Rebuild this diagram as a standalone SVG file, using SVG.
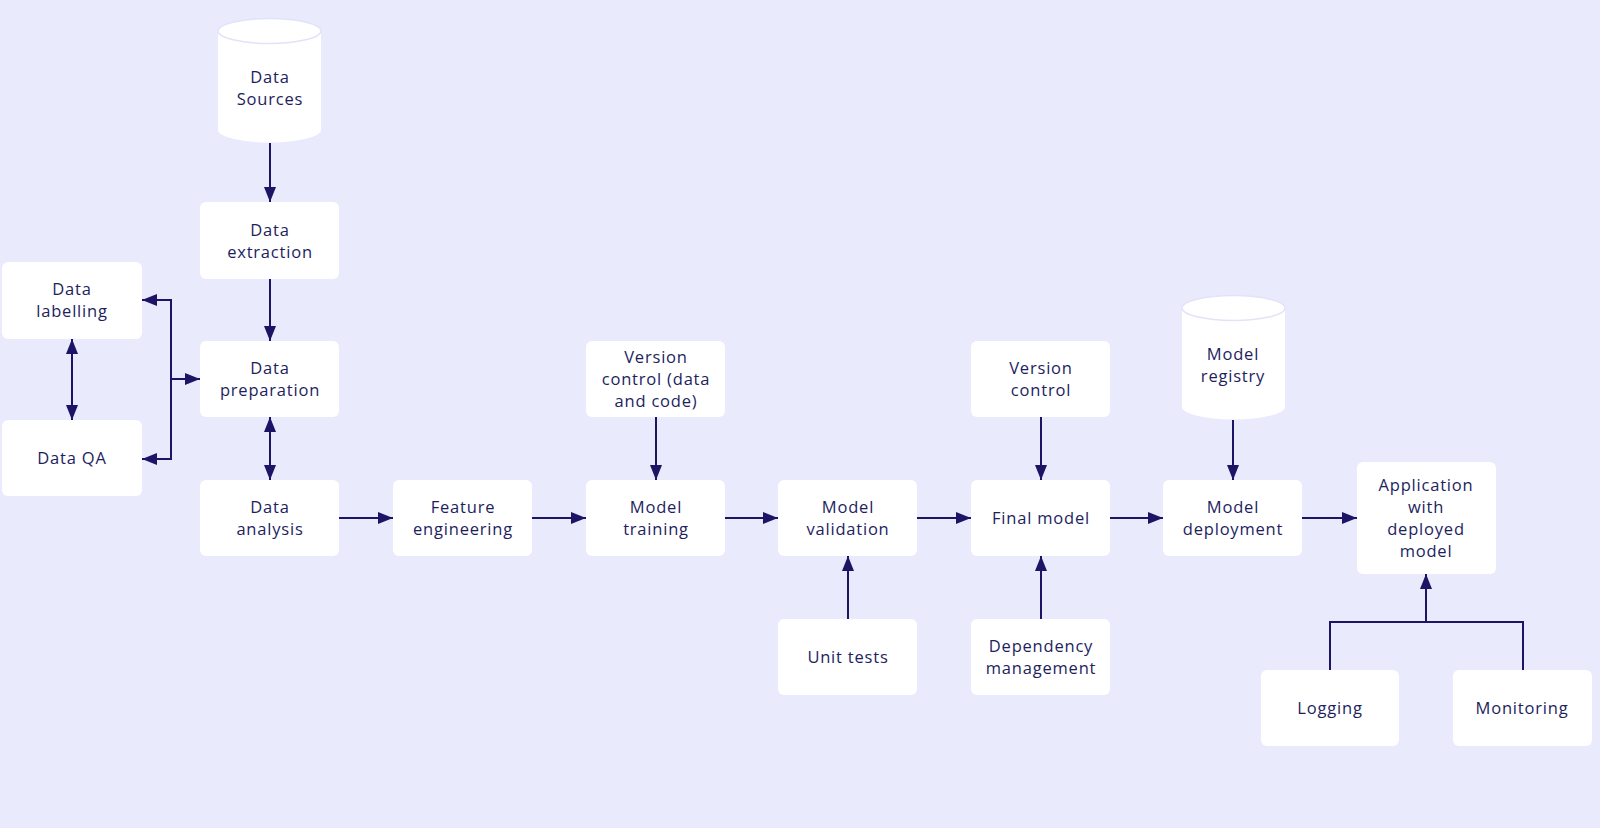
<svg xmlns="http://www.w3.org/2000/svg" width="1600" height="828" viewBox="0 0 1600 828">
<style>
.bg{fill:#E9EAFC}
.box{fill:#FFFFFF}
.cyl{fill:#FFFFFF}
.cyltop{fill:#FFFFFF;stroke:#E2E3F8;stroke-width:1.5}
text{font-family:"Open Sans","Liberation Sans",sans-serif;font-size:16.5px;fill:#221E5E;text-anchor:middle;letter-spacing:0.8px}
.c{fill:none;stroke:#1C1464;stroke-width:2}
</style>
<defs>
<marker id="ah" markerUnits="userSpaceOnUse" markerWidth="15" markerHeight="12" refX="15" refY="6" orient="auto-start-reverse">
<path d="M0,0 L15,6 L0,12 Z" fill="#1C1464"/>
</marker>
</defs>
<rect class="bg" x="0" y="0" width="1600" height="828"/>

<g id="connectors">
<path class="c" d="M270,143 V202" marker-end="url(#ah)"/>
<path class="c" d="M270,279 V341" marker-end="url(#ah)"/>
<path class="c" d="M270,417 V480" marker-start="url(#ah)" marker-end="url(#ah)"/>
<path class="c" d="M72,339 V420" marker-start="url(#ah)" marker-end="url(#ah)"/>
<path class="c" d="M142,300 H171 V459 H142" marker-start="url(#ah)" marker-end="url(#ah)"/>
<path class="c" d="M171,379 H200" marker-end="url(#ah)"/>
<path class="c" d="M339,518 H393" marker-end="url(#ah)"/>
<path class="c" d="M532,518 H586" marker-end="url(#ah)"/>
<path class="c" d="M725,518 H778" marker-end="url(#ah)"/>
<path class="c" d="M917,518 H971" marker-end="url(#ah)"/>
<path class="c" d="M1110,518 H1163" marker-end="url(#ah)"/>
<path class="c" d="M1302,518 H1357" marker-end="url(#ah)"/>
<path class="c" d="M656,417 V480" marker-end="url(#ah)"/>
<path class="c" d="M848,619 V556" marker-end="url(#ah)"/>
<path class="c" d="M1041,417 V480" marker-end="url(#ah)"/>
<path class="c" d="M1041,619 V556" marker-end="url(#ah)"/>
<path class="c" d="M1233,420 V480" marker-end="url(#ah)"/>
<path class="c" d="M1330,670 V622 H1523 V670"/>
<path class="c" d="M1426,622 V574" marker-end="url(#ah)"/>
</g>

<g id="data-sources">
<path class="cyl" d="M218,31 V130 A51.5,12.5 0 0 0 321,130 V31 Z"/>
<ellipse class="cyltop" cx="269.5" cy="31" rx="51.5" ry="12.5"/>
<text x="270" y="83">Data</text>
<text x="270" y="105">Sources</text>
</g>

<g id="data-extraction">
<rect class="box" x="200" y="202" width="139" height="77" rx="6"/>
<text x="270" y="236">Data</text>
<text x="270" y="258">extraction</text>
</g>

<g id="data-labelling">
<rect class="box" x="2" y="262" width="140" height="77" rx="6"/>
<text x="72" y="295">Data</text>
<text x="72" y="317">labelling</text>
</g>

<g id="data-qa">
<rect class="box" x="2" y="420" width="140" height="76" rx="6"/>
<text x="72" y="464">Data QA</text>
</g>

<g id="data-preparation">
<rect class="box" x="200" y="341" width="139" height="76" rx="6"/>
<text x="270" y="374">Data</text>
<text x="270" y="396">preparation</text>
</g>

<g id="data-analysis">
<rect class="box" x="200" y="480" width="139" height="76" rx="6"/>
<text x="270" y="513">Data</text>
<text x="270" y="535">analysis</text>
</g>

<g id="feature-engineering">
<rect class="box" x="393" y="480" width="139" height="76" rx="6"/>
<text x="463" y="513">Feature</text>
<text x="463" y="535">engineering</text>
</g>

<g id="version-control-data-code">
<rect class="box" x="586" y="341" width="139" height="76" rx="6"/>
<text x="656" y="363">Version</text>
<text x="656" y="385">control (data</text>
<text x="656" y="407">and code)</text>
</g>

<g id="model-training">
<rect class="box" x="586" y="480" width="139" height="76" rx="6"/>
<text x="656" y="513">Model</text>
<text x="656" y="535">training</text>
</g>

<g id="model-validation">
<rect class="box" x="778" y="480" width="139" height="76" rx="6"/>
<text x="848" y="513">Model</text>
<text x="848" y="535">validation</text>
</g>

<g id="unit-tests">
<rect class="box" x="778" y="619" width="139" height="76" rx="6"/>
<text x="848" y="663">Unit tests</text>
</g>

<g id="version-control">
<rect class="box" x="971" y="341" width="139" height="76" rx="6"/>
<text x="1041" y="374">Version</text>
<text x="1041" y="396">control</text>
</g>

<g id="final-model">
<rect class="box" x="971" y="480" width="139" height="76" rx="6"/>
<text x="1041" y="524">Final model</text>
</g>

<g id="dependency-management">
<rect class="box" x="971" y="619" width="139" height="76" rx="6"/>
<text x="1041" y="652">Dependency</text>
<text x="1041" y="674">management</text>
</g>

<g id="model-registry">
<path class="cyl" d="M1182,308 V407 A51.5,12.5 0 0 0 1285,407 V308 Z"/>
<ellipse class="cyltop" cx="1233.5" cy="308" rx="51.5" ry="12.5"/>
<text x="1233" y="360">Model</text>
<text x="1233" y="382">registry</text>
</g>

<g id="model-deployment">
<rect class="box" x="1163" y="480" width="139" height="76" rx="6"/>
<text x="1233" y="513">Model</text>
<text x="1233" y="535">deployment</text>
</g>

<g id="application">
<rect class="box" x="1357" y="462" width="139" height="112" rx="6"/>
<text x="1426" y="491">Application</text>
<text x="1426" y="513">with</text>
<text x="1426" y="535">deployed</text>
<text x="1426" y="557">model</text>
</g>

<g id="logging">
<rect class="box" x="1261" y="670" width="138" height="76" rx="6"/>
<text x="1330" y="714">Logging</text>
</g>

<g id="monitoring">
<rect class="box" x="1453" y="670" width="139" height="76" rx="6"/>
<text x="1522" y="714">Monitoring</text>
</g>
</svg>
